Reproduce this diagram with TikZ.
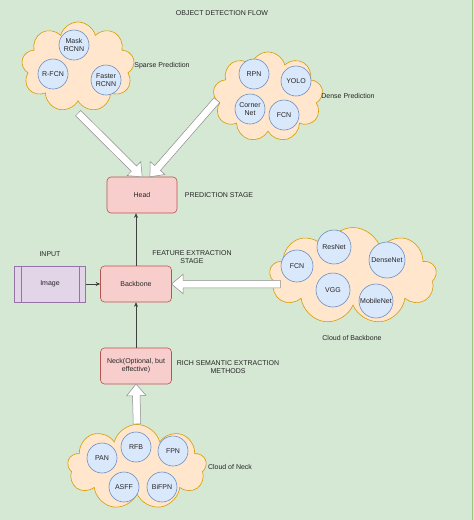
\documentclass[tikz,border=0pt]{standalone}
\usepackage{fontspec}
\setmainfont{Liberation Sans}
\usetikzlibrary{shapes.symbols,shapes.arrows,calc,arrows.meta}

\definecolor{bggreen}{HTML}{D5E8D4}
\definecolor{bgedge}{HTML}{9CC58A}
\definecolor{cloudfill}{HTML}{FFE6CC}
\definecolor{cloudline}{HTML}{D79B00}
\definecolor{bubblefill}{HTML}{DAE8FC}
\definecolor{bubbleline}{HTML}{6C8EBF}
\definecolor{stagefill}{HTML}{F8CECC}
\definecolor{stageline}{HTML}{B85450}
\definecolor{inputfill}{HTML}{E1D5E7}
\definecolor{inputline}{HTML}{9673A6}

% hollow block arrow from #1 to #2
\newcommand{\fatarrow}[2]{%
  \path let \p1=($(#2)-(#1)$), \n1={atan2(\y1,\x1)}, \n2={veclen(\x1,\y1)} in
    node[hollow, minimum height=\n2, rotate=\n1, anchor=tail] at (#1) {};}

\begin{document}
\begin{tikzpicture}[x=1pt,y=-1pt,
  font=\fontsize{7}{8}\selectfont, text=black!85,
  cloudy/.style={cloud, cloud puffs=9, cloud ignores aspect, draw=cloudline,
    fill=cloudfill, line width=0.6pt},
  bubble/.style={circle, draw=bubbleline, fill=bubblefill, line width=0.6pt,
    minimum size=30pt, inner sep=0pt, align=center},
  bigbubble/.style={bubble, minimum size=34pt},
  stagebox/.style={rectangle, rounded corners=4pt, draw=stageline, fill=stagefill,
    line width=0.6pt, minimum width=70pt, minimum height=36pt, align=center},
  lbl/.style={align=center},
  link/.style={draw=black!75, line width=0.6pt, -{Stealth[length=4.5pt,width=4pt]}},
  hollow/.style={single arrow, draw=black!45, fill=white, line width=0.5pt,
    single arrow head extend=6pt, single arrow tip angle=80,
    inner xsep=0pt, inner ysep=3.5pt},
]
\useasboundingbox (0,0) rectangle (474,520);
\fill[bggreen] (0,0) rectangle (474,520);
\draw[bgedge, line width=1.5pt] (472.5,0) -- (472.5,520);

\node[lbl] (title) at (222,13) {OBJECT DETECTION FLOW};

% sparse prediction
\node[cloudy, minimum width=113pt, minimum height=90pt] (sparse) at (78,67) {};
\node[bubble] (mask) at (74,45) {Mask\\RCNN};
\node[bubble] (rfcn) at (53,74) {R-FCN};
\node[bubble] (faster) at (106,80) {Faster\\RCNN};
\node[lbl] (sparselbl) at (162,66) {Sparse Prediction};

% dense prediction
\node[cloudy, minimum width=110pt, minimum height=90pt] (dense) at (268,97) {};
\node[bubble] (rpn) at (254,74) {RPN};
\node[bubble] (yolo) at (296,81) {YOLO};
\node[bubble] (corner) at (250,109) {Corner\\Net};
\node[bubble] (fcn) at (284,115) {FCN};
\node[lbl] (denselbl) at (348,96) {Dense Prediction};

% stages
\node[stagebox] (head) at (142,195) {Head};
\node[lbl] (headlbl) at (219,195) {PREDICTION STAGE};
\node[stagebox, minimum width=71pt] (backbone) at (136,284) {Backbone};
\node[lbl] (backbonelbl) at (192,257) {FEATURE EXTRACTION\\STAGE};
\node[stagebox, minimum width=71pt] (neck) at (136,366) {Neck(Optional, but\\effective)};
\node[lbl] (necklbl) at (228,367) {RICH SEMANTIC EXTRACTION\\METHODS};

% input
\node[rectangle, draw=inputline, fill=inputfill, line width=0.6pt,
  minimum width=71pt, minimum height=36pt] (image) at (50,284) {Image};
\draw[inputline, line width=0.6pt] ([xshift=7pt]image.north west) -- ([xshift=7pt]image.south west)
  ([xshift=-7pt]image.north east) -- ([xshift=-7pt]image.south east);
\node[lbl] (inputlbl) at (50,254) {INPUT};

% cloud of backbone
\node[cloudy, minimum width=167pt, minimum height=97pt] (bbcloud) at (353,276) {};
\node[bigbubble, minimum size=32pt] (fcnb) at (297,266) {FCN};
\node[bigbubble] (resnet) at (334,247) {ResNet};
\node[bigbubble, minimum size=36pt] (densenet) at (387,260) {DenseNet};
\node[bigbubble] (vgg) at (333,290) {VGG};
\node[bigbubble] (mobilenet) at (376,301) {MobileNet};
\node[lbl] (bbcloudlbl) at (352,338) {Cloud of Backbone};

% cloud of neck
\node[cloudy, minimum width=139pt, minimum height=85pt] (neckcloud) at (137,467) {};
\node[bubble] (pan) at (102,458) {PAN};
\node[bubble] (rfb) at (136,447) {RFB};
\node[bubble] (fpn) at (173,451) {FPN};
\node[bubble] (asff) at (124,487) {ASFF};
\node[bubble] (bifpn) at (162,487) {BiFPN};
\node[lbl] (neckcloudlbl) at (230,467) {Cloud of Neck};

% connectors
\draw[link] (image) -- (backbone);
\draw[link] (backbone) -- (backbone |- head.south);
\draw[link] (neck) -- (backbone);

\coordinate (sparsetail) at (78,113);
\coordinate (densetail) at (217,100);
\coordinate (densetip) at ([xshift=8pt]head.north);
\coordinate (bbtail) at (fcnb.west |- backbone);
\coordinate (necktail) at (neckcloud.north);
\fatarrow{sparsetail}{head.north}
\fatarrow{densetail}{densetip}
\fatarrow{bbtail}{backbone.east}
\fatarrow{necktail}{neck.south}
\end{tikzpicture}
\end{document}
